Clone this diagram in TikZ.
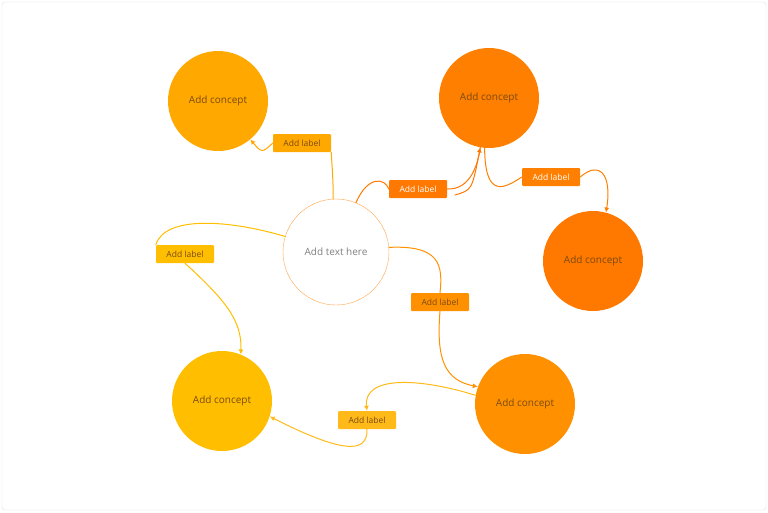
\documentclass[tikz,border=0pt]{standalone}
\usepackage{fontspec}
\setmainfont{Open Sans}
\usetikzlibrary{arrows.meta}
\definecolor{cA}{HTML}{FFA800}
\definecolor{cB}{HTML}{FF7F00}
\definecolor{cC}{HTML}{FF7800}
\definecolor{cD}{HTML}{FFBE00}
\definecolor{cE}{HTML}{FF9100}
\definecolor{cF}{HTML}{FFBA1A}
\definecolor{txt}{HTML}{7A4A10}
\tikzset{
  concept/.style={circle,minimum size=100pt,inner sep=0pt,font=\fontsize{10}{12}\selectfont,text=txt},
  lab/.style={rounded corners=1pt,inner sep=3pt,minimum height=18pt,minimum width=58pt,font=\fontsize{8.5}{10}\selectfont,text=txt},
  wlab/.style={lab,text=white},
  con/.style={line width=1pt,line cap=round},
  arr/.style={con,-{Latex[length=5pt,width=5pt]}}
}
\begin{document}
\begin{tikzpicture}[x=1pt,y=-1pt]
\useasboundingbox (0,0) rectangle (768,512);
\draw[gray!25,rounded corners=3pt] (2,2) rectangle (766,510);
\node[concept,fill=white,draw=cB!70,minimum size=106pt,text=gray] (c) at (336,252) {Add text here};
\node[concept,fill=cA] (tl) at (218,101) {Add concept};
\node[concept,fill=cB] (tr) at (489,98) {Add concept};
\node[concept,fill=cC] (r) at (593,261) {Add concept};
\node[concept,fill=cD] (bl) at (222,401) {Add concept};
\node[concept,fill=cE] (br) at (525,404) {Add concept};
\node[lab,fill=cA] (l1) at (302,143) {Add label};
\node[wlab,fill=cC] (l2) at (418,189) {Add label};
\node[wlab,fill=cB] (l3) at (551,177) {Add label};
\node[lab,fill=cD] (l4) at (185,254) {Add label};
\node[lab,fill=cE] (l5) at (440,302) {Add label};
\node[lab,fill=cF] (l6) at (367,420) {Add label};
% 1
\draw[con,cA] (c.93) .. controls (333,180) .. (l1.south east);
\draw[arr,cA] (l1.west) .. controls (262,153) .. (tl.-50);
% 2
\draw[con,cC] (c.68) .. controls (368,175) and (385,178) .. (l2.west);
\draw[con,cC] (l2.east) .. controls (470,190) and (478,165) .. (tr.-100);
\draw[arr,cC] (455,195) .. controls (472,190) .. (tr.-100);
% 3
\draw[con,cB] (tr.-95) .. controls (485,200) and (505,188) .. (l3.west);
\draw[arr,cB] (l3.east) .. controls (600,160) and (612,175) .. (r.75);
% 4
\draw[con,cD] (c.163) .. controls (230,220) and (165,215) .. (l4.north west);
\draw[arr,cD] (l4.south) .. controls (225,300) and (242,320) .. (bl.68);
% 5
\draw[con,cE] (c.5) .. controls (440,245) and (443,265) .. (l5.north);
\draw[arr,cE] (l5.south) .. controls (436,360) and (445,380) .. (br.160);
% 6
\draw[arr,cF] (br.170) .. controls (420,378) and (363,375) .. (l6.north);
\draw[arr,cF] (l6.south) .. controls (368,455) and (340,452) .. (bl.-18);
\end{tikzpicture}
\end{document}
